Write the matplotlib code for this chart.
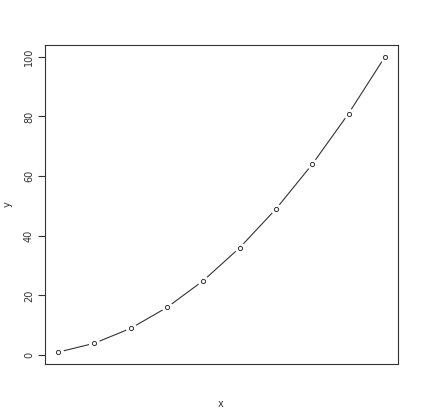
import numpy as np
import matplotlib.pyplot as plt

x = [1, 2, 3, 4, 5, 6, 7, 8, 9, 10]
y = [1, 4, 9, 16, 25, 36, 49, 64, 81, 100]
yticks = [0, 20, 40, 60, 80, 100]

fig = plt.figure(figsize=(4.21, 4.19), dpi=100)
ax = fig.add_axes([45/421, 55/419, 353/421, 319/419])

# type = "b": line with gaps around the points
ax.plot(x, y, color='#333333', lw=0.8, zorder=1)
ax.plot(x, y, 'o', ms=7, color='white', mec='white', zorder=2)
ax.plot(x, y, 'o', ms=3, mfc='white', mec='#333333', mew=0.7, zorder=3)

ax.set_xlim(0.64, 10.36)
ax.set_ylim(-2.96, 103.96)
ax.set_xticks([])
ax.set_yticks(yticks)
ax.set_yticklabels([str(t) for t in yticks], rotation=90, va='center',
                   fontsize=7, color='#333333')
ax.tick_params(axis='y', length=5, color='#333333', pad=3)
for s in ax.spines.values():
    s.set_color('#333333')
    s.set_linewidth(0.8)

fig.text(221/421, 1 - 404/419, 'x', ha='center', va='center', fontsize=7, color='#333333')
fig.text(8/421, 1 - 204/419, 'y', ha='center', va='center', rotation=90,
         fontsize=7, color='#333333')

fig.savefig('out.png', dpi=100)
